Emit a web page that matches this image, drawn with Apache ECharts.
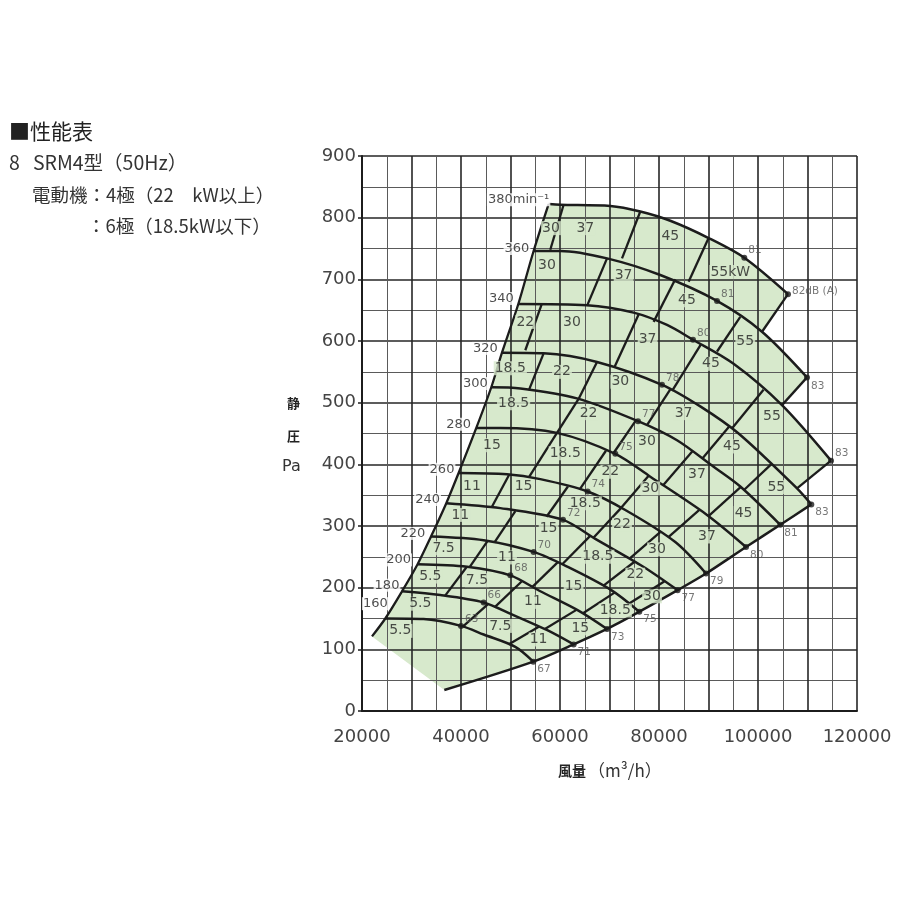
<!DOCTYPE html>
<html>
<head>
<meta charset="utf-8">
<script src="https://cdn.jsdelivr.net/npm/echarts@6/dist/echarts.min.js"></script>
<style>
html,body{margin:0;padding:0;background:#fff;}
#chart{width:900px;height:900px;}
</style>
</head>
<body>
<div id="chart"></div>
<script>
// 回転数ごとの性能曲線 [風量 m3/h, 静圧 Pa]
var curve160 = [[24710,150],[32440,149],[40000,138],[44590,124],[50970,104],[54610,80]]
var curve180 = [[28080,194],[35820,188],[44570,176],[50160,157],[57430,131],[62750,108]]
var curve200 = [[31230,238],[41210,234],[49960,220],[55820,195],[63900,162],[69500,133]]
var curve220 = [[33940,283],[44570,277],[54670,258],[61480,234],[70360,196],[76020,161]]
var curve240 = [[37030,337],[47940,329],[60610,310],[67130,279],[76830,234],[83760,196]]
var curve260 = [[39520,386],[49290,384],[56020,376],[65580,356],[73190,326],[83290,274],[89500,223]]
var curve280 = [[43090,459],[47940,459],[59390,451],[71170,417],[78240,380],[89700,318],[97580,266]]
var curve300 = [[46120,525],[52000,523],[63430,507],[75760,470],[83640,439],[91030,396],[96420,364],[104500,302]]
var curve320 = [[48280,581],[56690,580],[67480,566],[80610,529],[88340,494],[96080,450],[107880,361],[110770,335]]
var curve340 = [[51580,660],[65460,658],[74870,646],[81620,626],[86870,602],[95070,563],[104850,496],[114750,406]]
var curve360 = [[54670,746],[60060,746],[69500,734],[80260,707],[91720,665],[100810,615],[109900,541]]
var curve380 = [[57700,822],[60060,821],[70160,819],[76220,810],[82280,795],[90020,767],[97230,735],[106060,676]]

// 左側の限界線と下側の抵抗曲線
var surgeLine = [[22020,121],[24710,150],[28080,194],[31230,238],[33940,283],[37030,337],[39520,386],
  [43090,459],[46120,525],[48280,581],[51580,660],[54670,746],[57700,822]]
var bottomLine = [[36630,34],[54610,80],[62750,108],[69500,133],[76020,161],[83760,196],[89500,223],
  [97580,266],[104500,302],[110770,335]]

// 右側の境界 [Q1,P1,Q2,P2]
var edgeLines = [[106060,676,100810,615],[109900,541,104850,496],[114750,406,107880,361]]

// 帯ごとの電動機出力の区切り [Q1,P1,Q2,P2]（上の曲線 → 下の曲線）
var dividers = [
  // 360-380
  [60730,821,58040,748],[76220,810,72530,734],[90020,767,85980,696],
  // 340-360
  [69500,734,65460,657],[83290,700,78910,631],[96420,639,91720,583],
  // 320-340
  [56360,661,52990,585],[75880,643,70970,557],[88440,594,82650,519],[101120,521,94730,458],
  // 300-320
  [56690,580,53700,520],[67480,566,63760,506],[82250,521,77540,463],[94140,461,88720,409],[102650,400,97110,358],
  // 280-300
  [63760,506,59390,451],[75300,471,70800,418],[86710,421,80840,366],[96480,363,90000,316],
  // 260-280
  [59390,451,53700,379],[69280,422,63950,359],[77950,382,72310,329],[88150,326,81900,282],
  // 240-260
  [49730,383,46170,330],[61600,364,57280,315],[72310,329,66760,281],[80240,290,74050,247],
  // 220-240
  [50980,324,46730,273],[66100,284,60460,238],[75050,242,68720,203],[81060,210,73900,174],
  // 200-220
  [45320,275,41700,233],[59520,241,54380,201],[71010,192,64580,158],
  // 180-200
  [41180,234,36800,187],[52250,210,46770,168],[63320,164,56950,133],
  // 160-180
  [45400,173,40370,137],[55800,137,49600,108]
]

// 騒音値 dB(A)
var bepDots = [[40000,138,'63'],[44570,176,'66'],[49960,220,'68'],[54670,258,'70'],[60610,310,'72'],
  [65580,356,'74'],[71170,417,'75'],[75760,470,'77'],[80610,529,'78'],[86870,602,'80'],
  [91720,665,'81'],[97230,735,'81']]
var endDots = [[54610,80,'67'],[62750,108,'71'],[69500,133,'73'],[76020,161,'75'],[83760,196,'77'],
  [89500,223,'79'],[97580,266,'80'],[104500,302,'81'],[110770,335,'83']]
var rimDots = [[114750,406,'83'],[109900,541,'83'],[106060,676,'82dB (A)']]

// 電動機出力 kW
var kwLabels = [
  [58180,783,'30'],[65110,783,'37'],[82280,769,'45'],[94400,712,'55kW'],
  [57370,722,'30'],[72850,707,'37'],[85660,666,'45'],[97430,599,'55'],
  [52990,631,'22'],[62420,631,'30'],[77700,603,'37'],[90510,563,'45'],[102830,477,'55'],
  [49960,556,'18.5'],[60400,550,'22'],[72180,534,'30'],[84970,483,'37'],[94750,429,'45'],[103700,363,'55'],
  [50630,499,'18.5'],[65780,483,'22'],[77580,438,'30'],[87680,384,'37'],[97090,321,'45'],
  [46260,431,'15'],[61070,418,'18.5'],[70160,388,'22'],[78240,361,'30'],[89700,283,'37'],
  [42220,365,'11'],[52650,364,'15'],[65110,337,'18.5'],[72530,302,'22'],[79600,262,'30'],
  [39860,318,'11'],[57700,296,'15'],[67640,250,'18.5'],[75210,221,'22'],[78590,186,'30'],
  [36480,264,'7.5'],[49290,249,'11'],[62750,202,'15'],[71170,163,'18.5'],
  [33800,218,'5.5'],[43230,212,'7.5'],[54550,177,'11'],[64100,134,'15'],
  [31780,174,'5.5'],[47940,138,'7.5'],[55680,116,'11'],
  [27740,130,'5.5']
]

// 回転数ラベル min-1
var rpmLabels = [[22690,174,'160'],[25050,204,'180'],[27390,245,'200'],[30300,288,'220'],
  [33250,343,'240'],[36160,392,'260'],[39520,465,'280'],[42890,531,'300'],[44910,588,'320'],
  [48140,669,'340'],[51310,750,'360'],[51640,829,'380min⁻¹']]

var xTicks = [20000,40000,60000,80000,100000,120000]

var numFont = '"DejaVu Sans", sans-serif'
var jpFont = '"Noto Sans CJK JP", sans-serif'
var green = '#d7e9cc'
var ink = '#1c1c1c'

// 塗りつぶし範囲の外形
function buildFill(){
  var pts = surgeLine.slice()
  curve380.slice(1).forEach(function(p){ pts.push(p) })
  var bands = [curve360, curve340, curve320]
  edgeLines.forEach(function(e, i){
    pts.push([e[2], e[3]])
    bands[i].forEach(function(p){ if(p[0] > e[2]) pts.push(p) })
  })
  bottomLine.slice().reverse().forEach(function(p){ pts.push(p) })
  return pts
}
var fillPoly = buildFill()

var chart = echarts.init(document.getElementById('chart'))

var series = []
// 緑の範囲
series.push({
  type: 'custom', z: -1, silent: true,
  data: [[70000,400]],
  renderItem: function(params, api){
    var pts = fillPoly.map(function(p){ return api.coord(p) })
    return {type:'polygon', shape:{points: pts}, style:{fill: green}}
  }
})

function curveLine(data, w){
  return {type:'line', data:data, smooth:0.3, symbol:'none', silent:true,
    lineStyle:{color:ink, width:w}, z:3}
}
;[curve160,curve180,curve200,curve220,curve240,curve260,curve280,curve300,curve320,curve340,curve360,curve380]
  .forEach(function(c){ series.push(curveLine(c, 2.5)) })
series.push(curveLine(surgeLine, 2.3))
series.push(curveLine(bottomLine, 2.5))

// 区切り線
series.push({
  type:'custom', silent:true, z:3,
  data: dividers.concat(edgeLines),
  encode:{x:[0,2], y:[1,3]},
  renderItem: function(params, api){
    var a = api.coord([api.value(0), api.value(1)])
    var b = api.coord([api.value(2), api.value(3)])
    return {type:'line', shape:{x1:a[0],y1:a[1],x2:b[0],y2:b[1]}, style:{stroke:ink, lineWidth:2.3}}
  }
})

// kW ラベル
series.push({
  type:'scatter', symbolSize:1, z:4, silent:true,
  itemStyle:{color:'rgba(0,0,0,0)'},
  data: kwLabels,
  label:{show:true, position:'inside', formatter:function(p){ return p.value[2] },
    color:'#222', fontSize:14, fontFamily:numFont, backgroundColor:green, padding:[0,1]}
})

// 回転数ラベル
series.push({
  type:'scatter', symbolSize:1, z:4, silent:true,
  itemStyle:{color:'rgba(0,0,0,0)'},
  data: rpmLabels,
  label:{show:true, position:'inside', formatter:function(p){ return p.value[2] },
    color:'#222', fontSize:13, fontFamily:numFont, backgroundColor:'#fff', padding:[0,1]}
})

// 騒音値の点
function dotSeries(data, offset){
  return {type:'scatter', symbolSize:6, z:5, silent:true, itemStyle:{color:ink},
    data:data,
    label:{show:true, position:'right', distance:1, offset:offset,
      formatter:function(p){ return p.value[2] }, color:'#555', fontSize:10.5, fontFamily:numFont}}
}
series.push(dotSeries(bepDots, [0,-7]))
series.push(dotSeries(endDots, [0,8]))
var rimOffsets = [[0,-7],[0,9],[0,-3]]
series.push(dotSeries(rimDots.map(function(d, i){
  return {value:d, label:{offset: rimOffsets[i]}}
}), [0,0]))

chart.setOption({
  animation:false,
  backgroundColor:'#fff',
  grid:{left:362, top:156, width:495, height:555, show:false},
  xAxis:{
    type:'value', min:20000, max:120000, interval:10000,
    axisLine:{show:true, onZero:false, lineStyle:{color:ink, width:2}},
    axisTick:{show:false},
    axisLabel:{color:'#444', fontSize:18, fontFamily:numFont, margin:17,
      formatter:function(v){ return xTicks.indexOf(v) >= 0 ? String(v) : '' }},
    splitLine:{show:true, lineStyle:{color:'#262626', width:1.6}},
    minorTick:{show:false, splitNumber:2},
    minorSplitLine:{show:true, lineStyle:{color:'#5a5a5a', width:1}}
  },
  yAxis:{
    type:'value', min:0, max:900, interval:100,
    axisLine:{show:true, onZero:false, lineStyle:{color:ink, width:2}},
    axisTick:{show:true, length:4, lineStyle:{color:ink, width:1.5}},
    axisLabel:{color:'#444', fontSize:18, fontFamily:numFont, margin:6},
    splitLine:{show:true, lineStyle:{color:'#262626', width:1.6}},
    minorTick:{show:false, splitNumber:2},
    minorSplitLine:{show:true, lineStyle:{color:'#5a5a5a', width:1}}
  },
  graphic:[
    {type:'text', x:9, y:131, style:{text:'■性能表', font:'21px ' + jpFont, fill:'#222', verticalAlign:'middle'}},
    {type:'text', x:9, y:163, style:{text:'8   SRM4型（50Hz）', font:'19.5px ' + jpFont, fill:'#333', verticalAlign:'middle'}},
    {type:'text', x:32, y:195, style:{text:'電動機：4極（22　kW以上）', font:'18.5px ' + jpFont, fill:'#333', verticalAlign:'middle'}},
    {type:'text', x:87, y:226, style:{text:'：6極（18.5kW以下）', font:'18.5px ' + jpFont, fill:'#333', verticalAlign:'middle'}},
    {type:'text', x:287, y:403, style:{text:'静', font:'bold 13px ' + jpFont, fill:'#222', verticalAlign:'middle'}},
    {type:'text', x:287, y:436, style:{text:'圧', font:'bold 13px ' + jpFont, fill:'#222', verticalAlign:'middle'}},
    {type:'text', x:282, y:467, style:{text:'Pa', font:'16px ' + numFont, fill:'#333', verticalAlign:'middle'}},
    {type:'text', x:558, y:771, style:{text:'風量', font:'bold 14px ' + jpFont, fill:'#222', verticalAlign:'middle'}},
    {type:'text', x:588, y:771, style:{text:'（m³/h）', font:'17px ' + jpFont, fill:'#333', verticalAlign:'middle'}}
  ],
  series: series
})
</script>
</body>
</html>
